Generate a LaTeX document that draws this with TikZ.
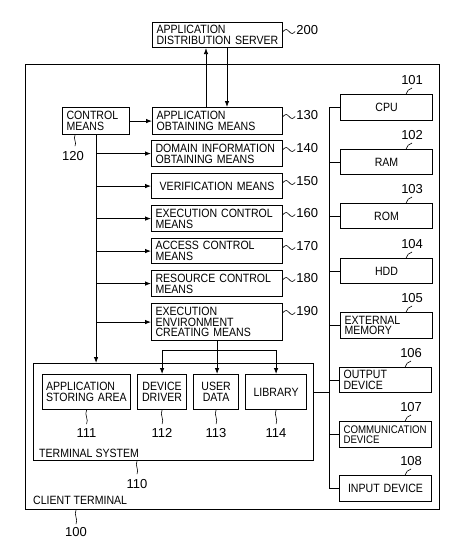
\documentclass[tikz,border=0pt]{standalone}
\usepackage{fontspec}
\setmainfont{Liberation Sans}
\newfontfamily\boxfnt{Liberation Sans}[FakeStretch=0.88]
\usetikzlibrary{arrows.meta}
\newcommand\bxf{\boxfnt\fontsize{12}{10.7}\selectfont}
\newcommand\smbxf{\boxfnt\fontsize{11}{10.2}\selectfont}
\newcommand\nmf{\fontsize{13}{13}\selectfont}
\tikzset{
  bx/.style={draw, line width=1.1pt, inner xsep=4pt, inner ysep=0pt, anchor=north west, font=\bxf},
  lft/.style={align=left},
  ctr/.style={align=center},
  num/.style={font=\nmf, inner sep=0pt},
  con/.style={line width=0.8pt},
  arr/.style={con, -{Latex[length=6pt,width=4.5pt]}},
  lead/.style={line width=0.6pt},
}
\begin{document}
\begin{tikzpicture}[x=1pt,y=-1pt]
\useasboundingbox (0,0) rectangle (474,552);
\fill[white] (0,0) rectangle (474,552);
% outer boxes
\node[draw, line width=1.1pt, minimum width=414pt, minimum height=445pt, anchor=north west, inner sep=0pt] (ct) at (25,64) {};
\node[bx, lft, text width=122pt, minimum height=25pt] (s200) at (152,22) {APPLICATION\\DISTRIBUTION SERVER};
% control column
\node[bx, lft, text width=59pt, minimum height=27pt] (ctl) at (62,107) {CONTROL\\MEANS};
\node[bx, lft, text width=122pt, minimum height=27pt] (b130) at (152,107) {APPLICATION\\OBTAINING MEANS};
\node[bx, lft, text width=123pt, minimum height=26pt] (b140) at (151,140) {DOMAIN INFORMATION\\OBTAINING MEANS};
\node[bx, ctr, text width=123pt, minimum height=25pt] (b150) at (151,173) {VERIFICATION MEANS};
\node[bx, lft, text width=123pt, minimum height=26pt] (b160) at (151,205) {EXECUTION CONTROL\\MEANS};
\node[bx, lft, text width=123pt, minimum height=25pt] (b170) at (151,238) {ACCESS CONTROL\\MEANS};
\node[bx, lft, text width=123pt, minimum height=26pt] (b180) at (151,270) {RESOURCE CONTROL\\MEANS};
\node[bx, lft, text width=123pt, minimum height=37pt] (b190) at (151,303) {EXECUTION\\ENVIRONMENT\\CREATING MEANS};
% hardware column
\node[bx, ctr, text width=84pt, minimum height=26pt] (cpu) at (340,94) {CPU};
\node[bx, ctr, text width=84pt, minimum height=25pt] (ram) at (340,149) {RAM};
\node[bx, ctr, text width=84pt, minimum height=25pt] (rom) at (340,203) {ROM};
\node[bx, ctr, text width=84pt, minimum height=25pt] (hdd) at (340,258) {HDD};
\node[bx, lft, text width=84pt, minimum height=26pt] (ext) at (340,312) {EXTERNAL\\MEMORY};
\node[bx, lft, text width=84pt, minimum height=25pt] (out) at (339,367) {OUTPUT\\DEVICE};
\node[bx, lft, text width=84pt, minimum height=26pt, font=\smbxf] (com) at (339,421) {COMMUNICATION\\DEVICE};
\node[bx, ctr, text width=84pt, minimum height=26pt] (inp) at (339,475) {INPUT DEVICE};
% terminal system
\node[draw, line width=1.1pt, minimum width=280pt, minimum height=97pt, anchor=north west, inner sep=0pt] (ts) at (33,363) {};
\node[bx, lft, text width=81pt, inner xsep=3.5pt, minimum height=35pt] (a111) at (42,374) {APPLICATION\\STORING AREA};
\node[bx, ctr, text width=45pt, inner xsep=2pt, minimum height=35pt] (d112) at (137,374) {DEVICE\\DRIVER};
\node[bx, ctr, text width=41pt, inner xsep=2pt, minimum height=35pt] (u113) at (193,374) {USER\\DATA};
\node[bx, ctr, text width=53pt, minimum height=35pt] (l114) at (245,374) {LIBRARY};
\node[anchor=west, font=\bxf, inner sep=0pt] (tst) at ([xshift=6pt,yshift=8pt]ts.south west) {TERMINAL SYSTEM};
\node[anchor=west, font=\bxf, inner sep=0pt] (ctt) at ([xshift=8pt,yshift=10pt]ct.south west) {CLIENT TERMINAL};
% connectors
\draw[arr] ([xshift=54pt]b130.north west) -- ([xshift=54pt]b130.north west |- s200.south);
\draw[arr] ([xshift=75pt]s200.south west) -- ([xshift=75pt]s200.south west |- b130.north);
\draw[arr] (ctl.east) -- (b130.west);
\draw[arr] (ctl.south) -- (ctl.south |- ts.north);
\foreach \n in {b140,b150,b160,b170,b180,b190}
  \draw[arr] (ctl.south |- \n.west) -- (\n.west);
\coordinate (jn) at ([yshift=-9pt]b190.south);
\draw[arr] (b190.south) -- (b190.south |- u113.north);
\draw[con] (d112.north |- jn) -- (l114.north |- jn);
\draw[arr] (d112.north |- jn) -- (d112.north);
\draw[arr] (l114.north |- jn) -- (l114.north);
\coordinate (bus) at (329,0);
\draw[con] (cpu.west) -- (cpu.west -| bus) -- (inp.west -| bus) -- (inp.west);
\foreach \n in {ram,rom,hdd,ext,out,com}
  \draw[con] (\n.west) -- (\n.west -| bus);
\draw[con] (ts.east |- l114.east) -- (l114.east -| bus);
% reference labels
\foreach \n/\t in {s200/200,b130/130,b140/140,b150/150,b160/160,b170/170,b180/180,b190/190}{
  \draw[lead] ([yshift=-9.5pt]\n.north east) sin ++(3,-2) cos ++(3,2) sin ++(3,2) cos ++(3,-2);
  \node[num, anchor=west] (r\t) at ([xshift=13pt,yshift=-8pt]\n.north east) {\t};
}
\foreach \n/\t in {cpu/101,ram/102,rom/103,hdd/104,ext/105,out/106,com/107,inp/108}{
  \draw[lead] ([xshift=-27pt]\n.north east) to[out=80,in=200] ++(6,-6);
  \node[num] (r\t) at ([xshift=-21pt,yshift=14pt]\n.north east) {\t};
}
\foreach \n/\t in {a111/111,d112/112,u113/113,l114/114}{
  \draw[lead] (\n.south) to[out=-110,in=110] ++(0,7) to[out=-70,in=70] ++(0,7);
  \node[num] (r\t) at ([yshift=-23pt]\n.south) {\t};
}
\draw[lead] ([xshift=104pt]ts.south west) to[out=-110,in=110] ++(0,6.5) to[out=-70,in=70] ++(0,6.5);
\node[num] (r110) at ([xshift=104pt,yshift=-23pt]ts.south west) {110};
\draw[lead] ([xshift=51pt]ct.south west) to[out=-110,in=110] ++(0,7) to[out=-70,in=70] ++(0,7);
\node[num] (r100) at ([xshift=51pt,yshift=-22pt]ct.south west) {100};
\draw[lead] ([xshift=13pt]ctl.south west) to[out=-110,in=110] ++(0,5.5) to[out=-70,in=70] ++(0,5.5);
\node[num] (r120) at ([xshift=11pt,yshift=-21pt]ctl.south west) {120};
\end{tikzpicture}
\end{document}
